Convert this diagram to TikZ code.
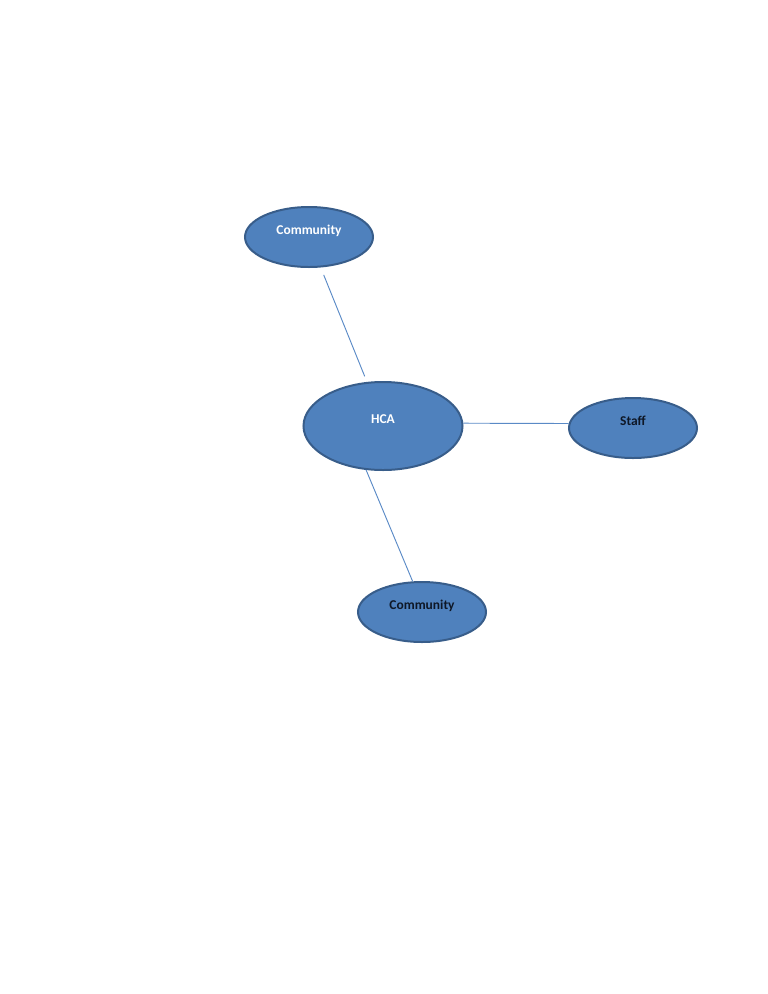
\documentclass[tikz,border=0pt]{standalone}
\usepackage{fontspec}
\setmainfont{Carlito}
\usepackage{xcolor}
\definecolor{hcblue}{HTML}{4F81BD}
\definecolor{hcedge}{HTML}{385D8A}
\definecolor{hcline}{HTML}{5A8AC6}
\definecolor{hcink}{HTML}{0E1726}
\usepackage{tikz}
\usetikzlibrary{shapes.geometric}

\begin{document}
\begin{tikzpicture}[
      x=0.03cm, y=-0.03cm,
      font=\fontsize{11.5}{13.5}\selectfont\bfseries,
      bub/.style={ellipse, fill=hcblue, draw=hcedge, line width=1.7pt,
                  minimum width=3.84cm, minimum height=1.8cm, inner sep=0pt,
                  text height=0.7em, text depth=1.15em},
      ln/.style={draw=hcline, line width=0.8pt},
    ]
    \useasboundingbox (0,0) rectangle (768,994);

    \node[bub, text=white] (top)   at (309,237) {Community};
    \node[bub, text=white, minimum width=4.77cm, minimum height=2.64cm]
          (hca) at (383,426) {HCA};
    \node[bub, text=hcink] (staff) at (633,428) {Staff};
    \node[bub, text=hcink] (bot)   at (422,612) {Community};

    % spokes
    \draw[ln, shorten <=0.24cm, shorten >=0.18cm] (top.-69) -- (hca.110);
    \draw[ln] (hca.2) -- (staff.176);
    \draw[ln] (hca.-111) -- (bot.107);

  \end{tikzpicture}
\end{document}
